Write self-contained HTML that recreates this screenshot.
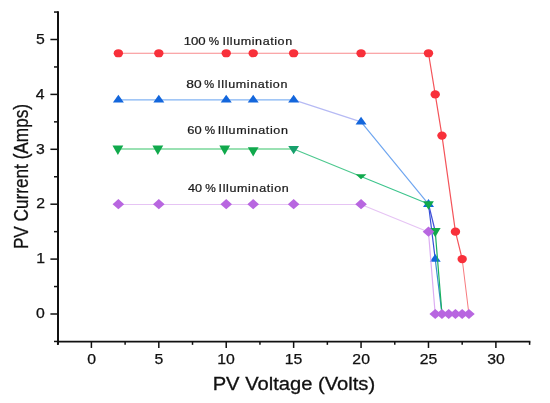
<!DOCTYPE html>
<html><head><meta charset="utf-8"><style>
html,body{margin:0;padding:0;background:#fff;}
svg{display:block;}
text{font-family:"Liberation Sans",sans-serif;fill:#111;}
.tk{stroke:#111;stroke-width:0.25px;}
.lb{fill:#1a1a1a;stroke:#1a1a1a;stroke-width:0.22px;}
.tt{stroke:#111;stroke-width:0.3px;}
</style></head><body>
<svg width="550" height="403" viewBox="0 0 550 403">
<rect width="550" height="403" fill="#fff"/>
<line x1="118.37" y1="53.23" x2="158.81" y2="53.23" stroke="#f98a8d" stroke-width="1.2" stroke-linecap="round"/>
<line x1="158.81" y1="53.23" x2="226.23" y2="53.23" stroke="#f98a8d" stroke-width="1.2" stroke-linecap="round"/>
<line x1="226.23" y1="53.23" x2="253.20" y2="53.23" stroke="#f98a8d" stroke-width="1.2" stroke-linecap="round"/>
<line x1="253.20" y1="53.23" x2="293.64" y2="53.23" stroke="#f98a8d" stroke-width="1.2" stroke-linecap="round"/>
<line x1="293.64" y1="53.23" x2="361.06" y2="53.23" stroke="#f98a8d" stroke-width="1.2" stroke-linecap="round"/>
<line x1="361.06" y1="53.23" x2="428.48" y2="53.23" stroke="#f98a8d" stroke-width="1.2" stroke-linecap="round"/>
<line x1="428.48" y1="53.23" x2="435.22" y2="94.40" stroke="#f4545a" stroke-width="1.2" stroke-linecap="round"/>
<line x1="435.22" y1="94.40" x2="441.96" y2="135.58" stroke="#f4545a" stroke-width="1.2" stroke-linecap="round"/>
<line x1="441.96" y1="135.58" x2="455.44" y2="231.65" stroke="#f4545a" stroke-width="1.2" stroke-linecap="round"/>
<line x1="455.44" y1="231.65" x2="462.18" y2="259.10" stroke="#f4545a" stroke-width="1.2" stroke-linecap="round"/>
<line x1="462.18" y1="259.10" x2="468.92" y2="314.00" stroke="#f87a7e" stroke-width="1.0" stroke-linecap="round"/>
<ellipse cx="118.37" cy="53.23" rx="4.7" ry="4.1" fill="#f8303a"/>
<ellipse cx="158.81" cy="53.23" rx="4.7" ry="4.1" fill="#f8303a"/>
<ellipse cx="226.23" cy="53.23" rx="4.7" ry="4.1" fill="#f8303a"/>
<ellipse cx="253.20" cy="53.23" rx="4.7" ry="4.1" fill="#f8303a"/>
<ellipse cx="293.64" cy="53.23" rx="4.7" ry="4.1" fill="#f8303a"/>
<ellipse cx="361.06" cy="53.23" rx="4.7" ry="4.1" fill="#f8303a"/>
<ellipse cx="428.48" cy="53.23" rx="4.7" ry="4.1" fill="#f8303a"/>
<ellipse cx="435.22" cy="94.40" rx="4.7" ry="4.1" fill="#f8303a"/>
<ellipse cx="441.96" cy="135.58" rx="4.7" ry="4.1" fill="#f8303a"/>
<ellipse cx="455.44" cy="231.65" rx="4.7" ry="4.1" fill="#f8303a"/>
<ellipse cx="462.18" cy="259.10" rx="4.7" ry="4.1" fill="#f8303a"/>
<line x1="118.37" y1="99.89" x2="158.81" y2="99.89" stroke="#82b4f4" stroke-width="1.2" stroke-linecap="round"/>
<line x1="158.81" y1="99.89" x2="226.23" y2="99.89" stroke="#82b4f4" stroke-width="1.2" stroke-linecap="round"/>
<line x1="226.23" y1="99.89" x2="253.20" y2="99.89" stroke="#82b4f4" stroke-width="1.2" stroke-linecap="round"/>
<line x1="253.20" y1="99.89" x2="293.64" y2="99.89" stroke="#82b4f4" stroke-width="1.2" stroke-linecap="round"/>
<line x1="293.64" y1="99.89" x2="361.06" y2="121.85" stroke="#b6baf4" stroke-width="1.2" stroke-linecap="round"/>
<line x1="361.06" y1="121.85" x2="428.48" y2="204.20" stroke="#6fa6f0" stroke-width="1.2" stroke-linecap="round"/>
<line x1="428.48" y1="204.20" x2="435.22" y2="259.10" stroke="#3550d8" stroke-width="1.2" stroke-linecap="round"/>
<line x1="435.22" y1="259.10" x2="441.96" y2="314.00" stroke="#3c8fd0" stroke-width="1.2" stroke-linecap="round"/>
<polygon points="112.87,102.59 123.87,102.59 118.37,94.79" fill="#1366dc"/>
<polygon points="153.31,102.59 164.31,102.59 158.81,94.79" fill="#1366dc"/>
<polygon points="220.73,102.59 231.73,102.59 226.23,94.79" fill="#1366dc"/>
<polygon points="247.70,102.59 258.70,102.59 253.20,94.79" fill="#1366dc"/>
<polygon points="288.14,102.59 299.14,102.59 293.64,94.79" fill="#1366dc"/>
<polygon points="355.56,124.55 366.56,124.55 361.06,116.75" fill="#1366dc"/>
<polygon points="422.98,206.90 433.98,206.90 428.48,199.10" fill="#1366dc"/>
<polygon points="429.72,261.80 440.72,261.80 435.22,254.00" fill="#1366dc"/>
<line x1="118.37" y1="149.00" x2="158.81" y2="149.00" stroke="#7ad89a" stroke-width="1.6" stroke-linecap="round"/>
<line x1="158.81" y1="149.00" x2="226.23" y2="149.00" stroke="#7ad89a" stroke-width="1.6" stroke-linecap="round"/>
<line x1="226.23" y1="149.00" x2="253.20" y2="149.00" stroke="#7ad89a" stroke-width="1.6" stroke-linecap="round"/>
<line x1="253.20" y1="149.00" x2="293.64" y2="149.00" stroke="#7ad89a" stroke-width="1.6" stroke-linecap="round"/>
<line x1="293.64" y1="149.00" x2="361.06" y2="176.45" stroke="#4cc88e" stroke-width="1.1" stroke-linecap="round"/>
<line x1="361.06" y1="176.45" x2="428.48" y2="203.90" stroke="#3cc48c" stroke-width="1.1" stroke-linecap="round"/>
<line x1="428.48" y1="203.90" x2="435.22" y2="231.35" stroke="#4452d8" stroke-width="1.3" stroke-linecap="round"/>
<line x1="435.22" y1="231.35" x2="441.96" y2="313.70" stroke="#18b060" stroke-width="1.2" stroke-linecap="round"/>
<polygon points="112.47,145.60 123.27,145.60 117.87,154.90" fill="#10a94c"/>
<polygon points="152.41,145.60 163.22,145.60 157.81,154.90" fill="#10a94c"/>
<polygon points="219.33,145.60 230.13,145.60 224.73,154.90" fill="#10a94c"/>
<polygon points="247.80,147.20 258.60,147.20 253.20,156.50" fill="#10a94c"/>
<polygon points="288.25,146.10 299.04,146.10 293.64,154.30" fill="#17a06c"/>
<polygon points="355.66,174.25 366.46,174.25 361.06,179.25" fill="#10a94c"/>
<polygon points="423.08,201.20 433.88,201.20 428.48,209.70" fill="#10a94c"/>
<polygon points="429.82,227.95 440.62,227.95 435.22,237.25" fill="#10a94c"/>
<line x1="118.37" y1="204.50" x2="158.81" y2="204.50" stroke="#e6c4f4" stroke-width="1.0" stroke-linecap="round"/>
<line x1="158.81" y1="204.50" x2="226.23" y2="204.50" stroke="#e6c4f4" stroke-width="1.0" stroke-linecap="round"/>
<line x1="226.23" y1="204.50" x2="253.20" y2="204.50" stroke="#e6c4f4" stroke-width="1.0" stroke-linecap="round"/>
<line x1="253.20" y1="204.50" x2="293.64" y2="204.50" stroke="#e6c4f4" stroke-width="1.0" stroke-linecap="round"/>
<line x1="293.64" y1="204.50" x2="361.06" y2="204.50" stroke="#e6c4f4" stroke-width="1.0" stroke-linecap="round"/>
<line x1="361.06" y1="204.50" x2="428.48" y2="231.95" stroke="#e6c4f4" stroke-width="1.2" stroke-linecap="round"/>
<line x1="428.48" y1="231.95" x2="435.22" y2="314.30" stroke="#dcaef2" stroke-width="1.2" stroke-linecap="round"/>
<line x1="435.22" y1="314.30" x2="441.96" y2="314.30" stroke="#d6a4f0" stroke-width="1.2" stroke-linecap="round"/>
<line x1="441.96" y1="314.30" x2="448.70" y2="314.30" stroke="#e6c4f4" stroke-width="1.2" stroke-linecap="round"/>
<line x1="448.70" y1="314.30" x2="455.44" y2="314.30" stroke="#e6c4f4" stroke-width="1.2" stroke-linecap="round"/>
<line x1="455.44" y1="314.30" x2="462.18" y2="314.30" stroke="#e6c4f4" stroke-width="1.2" stroke-linecap="round"/>
<line x1="462.18" y1="314.30" x2="468.92" y2="314.30" stroke="#e6c4f4" stroke-width="1.2" stroke-linecap="round"/>
<polygon points="112.57,204.20 118.37,199.10 124.17,204.20 118.37,209.30" fill="#b866e0"/>
<polygon points="153.01,204.20 158.81,199.10 164.62,204.20 158.81,209.30" fill="#b866e0"/>
<polygon points="220.43,204.20 226.23,199.10 232.03,204.20 226.23,209.30" fill="#b866e0"/>
<polygon points="247.40,204.20 253.20,199.10 259.00,204.20 253.20,209.30" fill="#b866e0"/>
<polygon points="287.84,204.20 293.64,199.10 299.44,204.20 293.64,209.30" fill="#b866e0"/>
<polygon points="355.26,204.20 361.06,199.10 366.86,204.20 361.06,209.30" fill="#b866e0"/>
<polygon points="422.68,231.65 428.48,226.55 434.28,231.65 428.48,236.75" fill="#b866e0"/>
<polygon points="429.42,314.00 435.22,308.90 441.02,314.00 435.22,319.10" fill="#b866e0"/>
<polygon points="436.16,314.00 441.96,308.90 447.76,314.00 441.96,319.10" fill="#b866e0"/>
<polygon points="442.90,314.00 448.70,308.90 454.50,314.00 448.70,319.10" fill="#b866e0"/>
<polygon points="449.64,314.00 455.44,308.90 461.24,314.00 455.44,319.10" fill="#b866e0"/>
<polygon points="456.38,314.00 462.18,308.90 467.98,314.00 462.18,319.10" fill="#b866e0"/>
<polygon points="463.12,314.00 468.92,308.90 474.72,314.00 468.92,319.10" fill="#b866e0"/>
<line x1="58.00" y1="11.25" x2="58.00" y2="344.65" stroke="#111" stroke-width="2"/>
<line x1="57.00" y1="341.65" x2="530.40" y2="341.65" stroke="#111" stroke-width="1.6"/>
<line x1="54.00" y1="341.45" x2="58.00" y2="341.45" stroke="#111" stroke-width="1.5"/>
<line x1="50.40" y1="314.00" x2="58.00" y2="314.00" stroke="#111" stroke-width="1.5"/>
<line x1="54.00" y1="286.55" x2="58.00" y2="286.55" stroke="#111" stroke-width="1.5"/>
<line x1="50.40" y1="259.10" x2="58.00" y2="259.10" stroke="#111" stroke-width="1.5"/>
<line x1="54.00" y1="231.65" x2="58.00" y2="231.65" stroke="#111" stroke-width="1.5"/>
<line x1="50.40" y1="204.20" x2="58.00" y2="204.20" stroke="#111" stroke-width="1.5"/>
<line x1="54.00" y1="176.75" x2="58.00" y2="176.75" stroke="#111" stroke-width="1.5"/>
<line x1="50.40" y1="149.30" x2="58.00" y2="149.30" stroke="#111" stroke-width="1.5"/>
<line x1="54.00" y1="121.85" x2="58.00" y2="121.85" stroke="#111" stroke-width="1.5"/>
<line x1="50.40" y1="94.40" x2="58.00" y2="94.40" stroke="#111" stroke-width="1.5"/>
<line x1="54.00" y1="66.95" x2="58.00" y2="66.95" stroke="#111" stroke-width="1.5"/>
<line x1="50.40" y1="39.50" x2="58.00" y2="39.50" stroke="#111" stroke-width="1.5"/>
<line x1="54.00" y1="12.05" x2="58.00" y2="12.05" stroke="#111" stroke-width="1.5"/>
<line x1="57.69" y1="341.65" x2="57.69" y2="344.85" stroke="#111" stroke-width="1.5"/>
<line x1="91.40" y1="341.65" x2="91.40" y2="347.95" stroke="#111" stroke-width="1.5"/>
<line x1="125.11" y1="341.65" x2="125.11" y2="344.85" stroke="#111" stroke-width="1.5"/>
<line x1="158.81" y1="341.65" x2="158.81" y2="347.95" stroke="#111" stroke-width="1.5"/>
<line x1="192.52" y1="341.65" x2="192.52" y2="344.85" stroke="#111" stroke-width="1.5"/>
<line x1="226.23" y1="341.65" x2="226.23" y2="347.95" stroke="#111" stroke-width="1.5"/>
<line x1="259.94" y1="341.65" x2="259.94" y2="344.85" stroke="#111" stroke-width="1.5"/>
<line x1="293.64" y1="341.65" x2="293.64" y2="347.95" stroke="#111" stroke-width="1.5"/>
<line x1="327.35" y1="341.65" x2="327.35" y2="344.85" stroke="#111" stroke-width="1.5"/>
<line x1="361.06" y1="341.65" x2="361.06" y2="347.95" stroke="#111" stroke-width="1.5"/>
<line x1="394.77" y1="341.65" x2="394.77" y2="344.85" stroke="#111" stroke-width="1.5"/>
<line x1="428.48" y1="341.65" x2="428.48" y2="347.95" stroke="#111" stroke-width="1.5"/>
<line x1="462.18" y1="341.65" x2="462.18" y2="344.85" stroke="#111" stroke-width="1.5"/>
<line x1="495.89" y1="341.65" x2="495.89" y2="347.95" stroke="#111" stroke-width="1.5"/>
<line x1="529.60" y1="341.65" x2="529.60" y2="344.85" stroke="#111" stroke-width="1.5"/>
<text x="36.03" y="318.20" class="tk" style="font-size:13.8px" textLength="8.79" lengthAdjust="spacingAndGlyphs">0</text>
<text x="36.19" y="263.30" class="tk" style="font-size:13.8px" textLength="8.79" lengthAdjust="spacingAndGlyphs">1</text>
<text x="36.21" y="208.40" class="tk" style="font-size:13.8px" textLength="8.79" lengthAdjust="spacingAndGlyphs">2</text>
<text x="36.11" y="153.50" class="tk" style="font-size:13.8px" textLength="8.79" lengthAdjust="spacingAndGlyphs">3</text>
<text x="35.87" y="98.60" class="tk" style="font-size:13.8px" textLength="8.79" lengthAdjust="spacingAndGlyphs">4</text>
<text x="36.08" y="43.70" class="tk" style="font-size:13.8px" textLength="8.79" lengthAdjust="spacingAndGlyphs">5</text>
<text x="87.21" y="363.60" class="tk" style="font-size:13.8px" textLength="8.79" lengthAdjust="spacingAndGlyphs">0</text>
<text x="154.64" y="363.60" class="tk" style="font-size:13.8px" textLength="8.79" lengthAdjust="spacingAndGlyphs">5</text>
<text x="217.35" y="363.60" class="tk" style="font-size:13.8px" textLength="17.57" lengthAdjust="spacingAndGlyphs">10</text>
<text x="284.79" y="363.60" class="tk" style="font-size:13.8px" textLength="17.57" lengthAdjust="spacingAndGlyphs">15</text>
<text x="352.39" y="363.60" class="tk" style="font-size:13.8px" textLength="17.57" lengthAdjust="spacingAndGlyphs">20</text>
<text x="419.83" y="363.60" class="tk" style="font-size:13.8px" textLength="17.57" lengthAdjust="spacingAndGlyphs">25</text>
<text x="487.31" y="363.60" class="tk" style="font-size:13.8px" textLength="17.57" lengthAdjust="spacingAndGlyphs">30</text>
<text x="183.70" y="44.50" class="lb" style="font-size:10.8px" textLength="22.02" lengthAdjust="spacingAndGlyphs">100</text>
<text x="208.88" y="44.50" class="lb" style="font-size:10.8px" textLength="10.33" lengthAdjust="spacingAndGlyphs">%</text>
<text transform="translate(222.45 44.50) scale(1.160 1)" class="lb" style="font-size:10.8px" textLength="60.06" lengthAdjust="spacing">Illumination</text>
<text x="186.31" y="87.90" class="lb" style="font-size:10.8px" textLength="15.33" lengthAdjust="spacingAndGlyphs">80</text>
<text x="204.30" y="87.90" class="lb" style="font-size:10.8px" textLength="9.89" lengthAdjust="spacingAndGlyphs">%</text>
<text transform="translate(217.25 87.90) scale(1.160 1)" class="lb" style="font-size:10.8px" textLength="60.49" lengthAdjust="spacing">Illumination</text>
<text x="187.24" y="133.80" class="lb" style="font-size:10.8px" textLength="14.37" lengthAdjust="spacingAndGlyphs">60</text>
<text x="204.78" y="133.80" class="lb" style="font-size:10.8px" textLength="10.33" lengthAdjust="spacingAndGlyphs">%</text>
<text transform="translate(217.65 133.80) scale(1.160 1)" class="lb" style="font-size:10.8px" textLength="60.58" lengthAdjust="spacing">Illumination</text>
<text x="187.91" y="191.80" class="lb" style="font-size:10.8px" textLength="14.09" lengthAdjust="spacingAndGlyphs">40</text>
<text x="205.37" y="191.80" class="lb" style="font-size:10.8px" textLength="10.54" lengthAdjust="spacingAndGlyphs">%</text>
<text transform="translate(218.55 191.80) scale(1.160 1)" class="lb" style="font-size:10.8px" textLength="60.58" lengthAdjust="spacing">Illumination</text>
<text x="212.65" y="390.00" class="tt" style="font-size:18.0px" textLength="162.51" lengthAdjust="spacingAndGlyphs">PV Voltage (Volts)</text>
<text x="0" y="0" class="tt" style="font-size:20.2px" textLength="145.13" lengthAdjust="spacingAndGlyphs" transform="translate(27.9 249.11) rotate(-90)">PV Current (Amps)</text>
</svg>
</body></html>
